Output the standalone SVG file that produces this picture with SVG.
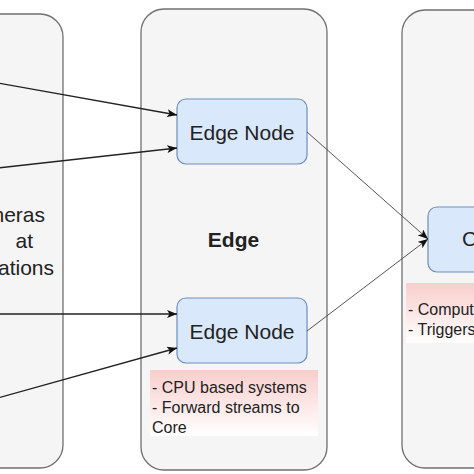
<svg xmlns="http://www.w3.org/2000/svg" width="474" height="474" viewBox="0 0 474 474">
  <style>
    .panel { fill: #f5f5f5; stroke: #707070; stroke-width: 1.3; }
    .node { fill: #dae8fc; stroke: #6c8ebf; stroke-width: 1.2; }
    .lbl { font-family: "Liberation Sans", Arial, sans-serif; fill: #222222; }
    .node-t { font-size: 21px; }
    .note-t { font-size: 16px; }
    .in { fill: none; stroke: #222222; stroke-width: 1.3; }
    .out { fill: none; stroke: #555555; stroke-width: 1; }
  </style>
  <defs>
    <linearGradient id="noteGrad" x1="0" y1="0" x2="0" y2="1">
      <stop offset="0" stop-color="#f8cecc"/>
      <stop offset="1" stop-color="#ffffff"/>
    </linearGradient>
    <marker id="arr" viewBox="0 0 10 8" refX="10" refY="4" markerWidth="10" markerHeight="8" markerUnits="userSpaceOnUse" orient="auto">
      <path d="M0,0 L10,4 L0,8 L2.5,4 Z" fill="#111111"/>
    </marker>
  </defs>
  <rect width="474" height="474" fill="#ffffff"/>

  <g id="panel-cameras">
    <rect class="panel" x="-140" y="14" width="203" height="454" rx="23"/>
    <text class="lbl node-t" x="45" y="222" text-anchor="end">Cameras</text>
    <text class="lbl node-t" x="33" y="248" text-anchor="end">at</text>
    <text class="lbl node-t" x="54" y="275" text-anchor="end">locations</text>
  </g>

  <g id="panel-edge">
    <rect class="panel" x="141" y="9" width="186" height="461" rx="23"/>
    <text class="lbl" x="233.5" y="247" text-anchor="middle" font-size="21" font-weight="bold">Edge</text>
  </g>

  <g id="panel-core">
    <rect class="panel" x="402" y="10" width="200" height="458" rx="23"/>
  </g>

  <g id="edge-node-1">
    <rect class="node" x="177" y="99" width="130" height="65" rx="9"/>
    <text class="lbl node-t" x="242" y="140" text-anchor="middle">Edge Node</text>
  </g>

  <g id="edge-node-2">
    <rect class="node" x="177" y="298" width="130" height="65" rx="9"/>
    <text class="lbl node-t" x="242" y="339" text-anchor="middle">Edge Node</text>
  </g>

  <g id="edge-note">
    <rect x="150" y="370" width="168" height="66" fill="url(#noteGrad)"/>
    <text class="lbl note-t" x="152" y="393">- CPU based systems</text>
    <text class="lbl note-t" x="152" y="413">- Forward streams to</text>
    <text class="lbl note-t" x="152" y="433">Core</text>
  </g>

  <g id="core-node">
    <rect class="node" x="428" y="207" width="120" height="65" rx="9"/>
    <text class="lbl node-t" x="462" y="246">Core</text>
  </g>

  <g id="core-note">
    <rect x="406" y="283" width="120" height="60" fill="url(#noteGrad)"/>
    <text class="lbl note-t" x="408" y="315">- Computes</text>
    <text class="lbl note-t" x="408" y="335">- Triggers</text>
  </g>

  <g id="connectors">
    <line class="in" x1="-2" y1="83" x2="177" y2="115" marker-end="url(#arr)"/>
    <line class="in" x1="-2" y1="168" x2="177" y2="148" marker-end="url(#arr)"/>
    <line class="in" x1="-2" y1="314" x2="177" y2="314" marker-end="url(#arr)"/>
    <line class="in" x1="-2" y1="398" x2="177" y2="348" marker-end="url(#arr)"/>
    <line class="out" x1="307" y1="132" x2="428" y2="239" marker-end="url(#arr)"/>
    <line class="out" x1="307" y1="331" x2="428" y2="239" marker-end="url(#arr)"/>
  </g>
</svg>
